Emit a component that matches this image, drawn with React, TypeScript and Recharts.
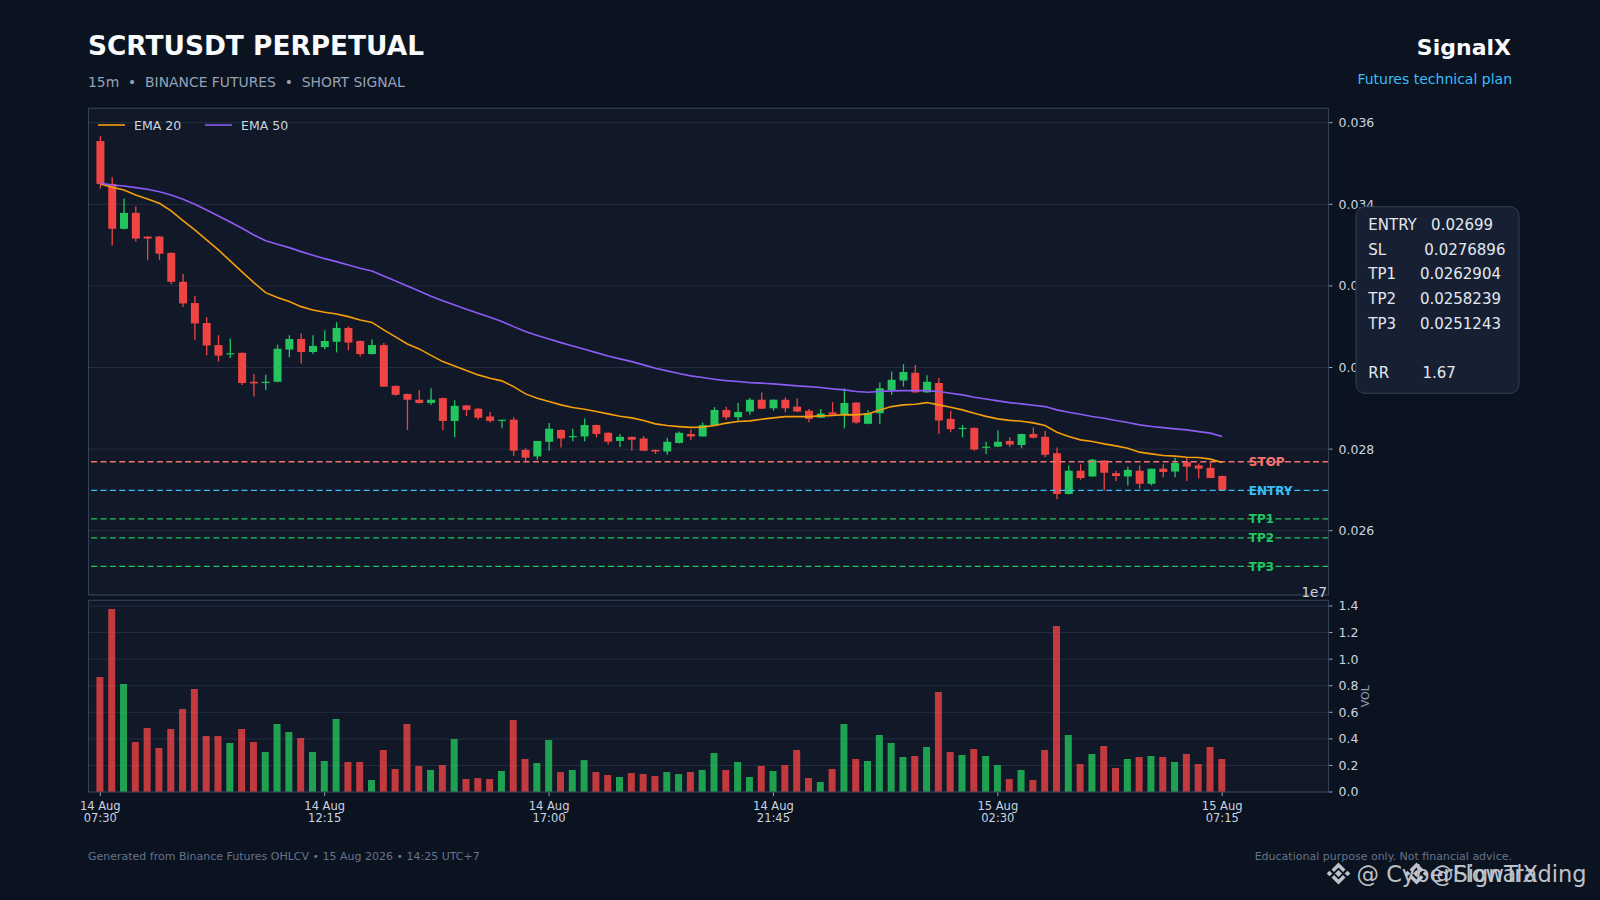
import React from 'react';
import {
  ComposedChart,
  Bar,
  Line,
  XAxis,
  YAxis,
  CartesianGrid,
  ReferenceLine,
  ReferenceDot,
  Cell,
} from 'recharts';

const FONT = '"DejaVu Sans", Verdana, sans-serif';
const GREEN = '#22c55e';
const RED = '#ef4444';

// ---------- data (15m candles, 14 Aug 07:30 -> 15 Aug 07:15) ----------
const opens = [
  0.03555, 0.0345, 0.0334, 0.03379, 0.03321, 0.03321, 0.03281, 0.0321, 0.03158, 0.03109,
  0.03055, 0.03034, 0.03036, 0.02965, 0.02964, 0.02965, 0.03044, 0.0307, 0.03038, 0.0305,
  0.03063, 0.03097, 0.03065, 0.03033, 0.03055, 0.02955, 0.02935, 0.02921, 0.02913, 0.02925,
  0.02869, 0.02907, 0.02899, 0.0288, 0.02871, 0.02872, 0.02798, 0.02782, 0.02818, 0.02847,
  0.0283, 0.02831, 0.02859, 0.0284, 0.0282, 0.0283, 0.02826, 0.02798, 0.02794, 0.02815,
  0.02837, 0.02831, 0.02858, 0.02896, 0.02878, 0.02892, 0.02921, 0.029, 0.02921, 0.02904,
  0.02894, 0.02877, 0.0289, 0.02884, 0.02914, 0.02862, 0.02888, 0.02945, 0.02968, 0.02987,
  0.02939, 0.02962, 0.02874, 0.0285, 0.02852, 0.02805, 0.02806, 0.0282, 0.0281, 0.02837,
  0.0283, 0.0279, 0.0269, 0.02747, 0.02733, 0.02772, 0.02741, 0.02733, 0.02747, 0.02715,
  0.02752, 0.02745, 0.02768, 0.0276, 0.02754, 0.02734,
];
const highs = [
  0.03567, 0.03466, 0.03414, 0.03395, 0.03322, 0.03322, 0.03282, 0.03229, 0.03175, 0.03123,
  0.03079, 0.03071, 0.03037, 0.02984, 0.02982, 0.03056, 0.03079, 0.03084, 0.03079, 0.03091,
  0.03111, 0.03101, 0.03066, 0.03069, 0.0306, 0.02956, 0.02936, 0.02944, 0.02949, 0.02926,
  0.0292, 0.02908, 0.02901, 0.02891, 0.02872, 0.02878, 0.02802, 0.0282, 0.02864, 0.02848,
  0.0285, 0.02875, 0.0286, 0.02841, 0.02837, 0.02831, 0.02832, 0.02799, 0.02828, 0.02843,
  0.02848, 0.02865, 0.02903, 0.02904, 0.02913, 0.02925, 0.02939, 0.02922, 0.02927, 0.02924,
  0.02898, 0.02898, 0.02915, 0.02949, 0.02915, 0.02896, 0.02963, 0.0299, 0.03008, 0.03006,
  0.02981, 0.02974, 0.02894, 0.02859, 0.02853, 0.02818, 0.02846, 0.02829, 0.02838, 0.02853,
  0.02845, 0.02804, 0.0276, 0.02763, 0.02776, 0.02773, 0.02747, 0.02757, 0.0276, 0.02752,
  0.02763, 0.02779, 0.0278, 0.02765, 0.02768, 0.02735,
];
const lows = [
  0.03439, 0.03299, 0.03338, 0.03309, 0.03263, 0.03264, 0.03204, 0.03148, 0.03068, 0.0303,
  0.03015, 0.03023, 0.02957, 0.02929, 0.02945, 0.02964, 0.03025, 0.0301, 0.03033, 0.03045,
  0.03037, 0.03042, 0.03027, 0.03032, 0.02952, 0.02931, 0.02847, 0.02912, 0.02908, 0.02847,
  0.02829, 0.02881, 0.02872, 0.02865, 0.02851, 0.02783, 0.02769, 0.02774, 0.02796, 0.02804,
  0.02819, 0.02819, 0.02829, 0.02811, 0.02805, 0.02796, 0.02795, 0.02788, 0.02786, 0.02814,
  0.02822, 0.0283, 0.02857, 0.02872, 0.02867, 0.02884, 0.02898, 0.02894, 0.0289, 0.02891,
  0.02866, 0.02876, 0.02883, 0.02851, 0.02862, 0.02861, 0.02862, 0.02933, 0.02953, 0.02938,
  0.02938, 0.02837, 0.02841, 0.02829, 0.02796, 0.02788, 0.02805, 0.02805, 0.02802, 0.02826,
  0.0278, 0.02677, 0.02689, 0.02725, 0.02732, 0.02698, 0.02722, 0.02711, 0.02703, 0.02711,
  0.02731, 0.02731, 0.02722, 0.02728, 0.02729, 0.02697,
];
const closes = [
  0.0345, 0.0334, 0.03379, 0.03316, 0.03316, 0.03279, 0.0321, 0.03157, 0.03108, 0.03054,
  0.03029, 0.03035, 0.02962, 0.02961, 0.02965, 0.03046, 0.0307, 0.03038, 0.03053, 0.03065,
  0.03097, 0.03061, 0.03033, 0.03055, 0.02953, 0.02933, 0.02921, 0.02913, 0.02921, 0.02869,
  0.02906, 0.02896, 0.02877, 0.02869, 0.02872, 0.02796, 0.02779, 0.0282, 0.0285, 0.02826,
  0.02832, 0.02859, 0.02837, 0.02818, 0.0283, 0.02823, 0.02796, 0.02794, 0.02818, 0.0284,
  0.02831, 0.02859, 0.02896, 0.02878, 0.02891, 0.02921, 0.02899, 0.02921, 0.029, 0.02892,
  0.02874, 0.02887, 0.02884, 0.02913, 0.02865, 0.02888, 0.02949, 0.0297, 0.02989, 0.02939,
  0.02965, 0.0287, 0.02849, 0.02852, 0.02799, 0.02806, 0.02818, 0.02811, 0.02837, 0.02828,
  0.02786, 0.0269, 0.02747, 0.02729, 0.02774, 0.02742, 0.02734, 0.02749, 0.02715, 0.02752,
  0.02744, 0.02766, 0.02757, 0.02752, 0.02729, 0.02699,
];
const volumes = [
  8660000, 13770000, 8130000, 3760000, 4820000, 3310000, 4740000, 6250000, 7750000, 4210000,
  4210000, 3690000, 4740000, 3760000, 3010000, 5120000, 4520000, 4060000, 3010000, 2330000,
  5490000, 2260000, 2260000, 900000, 3160000, 1730000, 5120000, 1960000, 1660000, 2030000,
  3990000, 980000, 1050000, 980000, 1580000, 5420000, 2480000, 2180000, 3910000, 1500000,
  1660000, 2410000, 1500000, 1280000, 1130000, 1430000, 1350000, 1200000, 1500000, 1350000,
  1500000, 1660000, 2940000, 1660000, 2260000, 1130000, 1960000, 1580000, 2030000, 3160000,
  1050000, 750000, 1730000, 5120000, 2480000, 2330000, 4290000, 3690000, 2630000, 2710000,
  3390000, 7530000, 3010000, 2780000, 3240000, 2710000, 2030000, 980000, 1660000, 900000,
  3160000, 12490000, 4290000, 2110000, 2860000, 3460000, 1810000, 2480000, 2630000, 2710000,
  2630000, 2260000, 2860000, 2110000, 3390000, 2480000,
];
const ema20 = [
  0.034498, 0.034417, 0.034351, 0.034229, 0.034131, 0.034025, 0.033837, 0.033599, 0.033371, 0.033126,
  0.032881, 0.032612, 0.032342, 0.03208, 0.031835, 0.031713, 0.031615, 0.031492, 0.031411, 0.031355,
  0.031313, 0.031247, 0.031166, 0.031105, 0.030921, 0.03075, 0.030578, 0.030456, 0.030296, 0.030144,
  0.030039, 0.029924, 0.029819, 0.029738, 0.029672, 0.029532, 0.029353, 0.029248, 0.029165, 0.029084,
  0.029018, 0.028978, 0.02892, 0.028863, 0.028807, 0.028766, 0.0287, 0.028619, 0.028577, 0.028552,
  0.028533, 0.028538, 0.028577, 0.028636, 0.028675, 0.028692, 0.028733, 0.028766, 0.028797, 0.028797,
  0.028797, 0.028814, 0.028822, 0.028846, 0.028839, 0.028863, 0.028961, 0.029042, 0.029084, 0.029101,
  0.02914, 0.029084, 0.029027, 0.028961, 0.028881, 0.028802, 0.028741, 0.028704, 0.028684, 0.028643,
  0.028577, 0.028415, 0.028307, 0.028226, 0.028185, 0.028128, 0.028079, 0.028023, 0.027925, 0.027883,
  0.027842, 0.027827, 0.027802, 0.027793, 0.027754, 0.02767,
];
const ema50 = [
  0.034515, 0.034474, 0.034449, 0.034408, 0.034368, 0.03431, 0.034229, 0.034123, 0.034001, 0.033861,
  0.033714, 0.033567, 0.033413, 0.033249, 0.033109, 0.033021, 0.032938, 0.03284, 0.032751, 0.032668,
  0.032595, 0.032514, 0.032433, 0.032367, 0.032244, 0.032122, 0.031999, 0.031877, 0.031747, 0.031639,
  0.031534, 0.031428, 0.03133, 0.031232, 0.031125, 0.031002, 0.03088, 0.030782, 0.030701, 0.03061,
  0.030529, 0.030448, 0.030365, 0.030284, 0.030211, 0.030144, 0.030064, 0.029983, 0.029917, 0.029855,
  0.029794, 0.029753, 0.029713, 0.029679, 0.029655, 0.02963, 0.029616, 0.029598, 0.029574, 0.029549,
  0.029532, 0.029508, 0.029476, 0.029451, 0.02941, 0.029395, 0.02941, 0.029427, 0.029434, 0.029434,
  0.029434, 0.02941, 0.02937, 0.029329, 0.029272, 0.029226, 0.029182, 0.02914, 0.029108, 0.029076,
  0.029042, 0.028961, 0.028905, 0.028856, 0.028797, 0.028758, 0.0287, 0.02865, 0.028594, 0.028552,
  0.028527, 0.028496, 0.028471, 0.028429, 0.028391, 0.028307,
];

const xTicks = [0, 19, 38, 57, 76, 95];
const xTickLabels = ['14 Aug\n07:30', '14 Aug\n12:15', '14 Aug\n17:00', '14 Aug\n21:45', '15 Aug\n02:30', '15 Aug\n07:15'];
const xDomain = [-1, 104];
const priceTicks = [0.026, 0.028, 0.03, 0.032, 0.034, 0.036];
const priceDomain = [0.024424, 0.036353];
const volumeTicks = [0, 2000000, 4000000, 6000000, 8000000, 10000000, 12000000, 14000000];
const volumeDomain = [0, 14430000];

const entry = 0.02699;
const stopLoss = 0.0276896;
const tp1 = 0.0262904;
const tp2 = 0.0258239;
const tp3 = 0.0251243;
const riskReward = 1.67;
const levelLabelX = 97;

const levels = [
  { name: 'STOP', value: stopLoss, color: '#f87171' },
  { name: 'ENTRY', value: entry, color: '#38bdf8' },
  { name: 'TP1', value: tp1, color: '#22c55e' },
  { name: 'TP2', value: tp2, color: '#22c55e' },
  { name: 'TP3', value: tp3, color: '#22c55e' },
];

const emaSeries = [
  { key: 'ema20', name: 'EMA 20', color: '#f59e0b' },
  { key: 'ema50', name: 'EMA 50', color: '#8b5cf6' },
];

const data = opens.map((o, i) => ({
  i,
  o,
  h: highs[i],
  l: lows[i],
  c: closes[i],
  v: volumes[i],
  ema20: ema20[i],
  ema50: ema50[i],
}));

// ---------- drawing helpers ----------
const CandleShape = (props: any) => {
  const { x, y, width, height } = props;
  const p = props.payload || props;
  if (x == null || y == null || p == null) return null;
  const { o, h, l, c } = p;
  const color = c >= o ? GREEN : RED;
  const k = h - l > 0 ? height / (h - l) : 0;
  const yO = y + (h - o) * k;
  const yC = y + (h - c) * k;
  const top = Math.min(yO, yC);
  const bh = Math.max(Math.abs(yO - yC), 1.2);
  const cx = x + width / 2;
  return (
    <g>
      <line x1={cx} x2={cx} y1={y} y2={y + height} stroke={color} strokeWidth={1.3} />
      <rect x={x} y={top} width={width} height={bh} fill={color} />
    </g>
  );
};

const XTick = (props: any) => {
  const { x, y, payload } = props;
  const idx = xTicks.indexOf(payload.value);
  const label = idx >= 0 ? xTickLabels[idx] : '';
  const [d, t] = label.split('\n');
  return (
    <text x={x} y={y} textAnchor="middle" fill="#cbd5e1" fontSize={11.5} fontFamily={FONT}>
      <tspan x={x} dy="0.71em">{d}</tspan>
      <tspan x={x} dy="1.02em">{t}</tspan>
    </text>
  );
};

const infoLines = [
  `ENTRY   ${entry}`,
  `SL        ${stopLoss}`,
  `TP1     ${tp1}`,
  `TP2     ${tp2}`,
  `TP3     ${tp3}`,
  '',
  `RR       ${riskReward.toFixed(2)}`,
];

const Diamond = ({ cx, cy, s }: { cx: number; cy: number; s: number }) => (
  <rect x={cx - s / 2} y={cy - s / 2} width={s} height={s} transform={`rotate(45 ${cx} ${cy})`} />
);

const BinanceLogo = ({ cx, cy }: { cx: number; cy: number }) => (
  <g>
    <Diamond cx={cx} cy={cy} s={5} />
    <Diamond cx={cx - 9} cy={cy} s={4} />
    <Diamond cx={cx + 9} cy={cy} s={4} />
    <path d={`M ${cx - 7} ${cy - 4} L ${cx} ${cy - 11} L ${cx + 7} ${cy - 4} L ${cx + 4.5} ${cy - 1.5} L ${cx} ${cy - 6} L ${cx - 4.5} ${cy - 1.5} Z`} />
    <path d={`M ${cx - 7} ${cy + 4} L ${cx} ${cy + 11} L ${cx + 7} ${cy + 4} L ${cx + 4.5} ${cy + 1.5} L ${cx} ${cy + 6} L ${cx - 4.5} ${cy + 1.5} Z`} />
  </g>
);

export default function App() {
  return (
    <div
      style={{
        position: 'absolute',
        left: 0,
        top: 0,
        width: 1600,
        height: 900,
        background: '#0b1220',
        fontFamily: FONT,
        overflow: 'hidden',
      }}
    >
      {/* price panel */}
      <div style={{ position: 'absolute', left: 0, top: 0 }}>
        <ComposedChart
          width={1600}
          height={600}
          data={data}
          margin={{ top: 108.3, right: 211.5, bottom: 0, left: 88.5 }}
        >
          <CartesianGrid fill="#111827" stroke="#334155" strokeOpacity={0.7} strokeWidth={0.8} />
          <XAxis
            type="number"
            dataKey="i"
            domain={xDomain}
            ticks={xTicks}
            interval={0}
            allowDataOverflow
            tick={false}
            tickSize={4}
            height={5}
            axisLine={false}
            tickLine={{ stroke: '#94a3b8' }}
          />
          <YAxis
            orientation="right"
            type="number"
            domain={priceDomain}
            ticks={priceTicks}
            interval={0}
            allowDataOverflow
            width={60}
            tickSize={4}
            tickMargin={6}
            axisLine={false}
            tickLine={{ stroke: '#94a3b8' }}
            tick={{ fill: '#cbd5e1', fontSize: 12.5, fontFamily: FONT }}
            tickFormatter={(v: number) => v.toFixed(3)}
          />
          {levels.map((lv) => (
            <ReferenceLine
              key={lv.name}
              y={lv.value}
              stroke={lv.color}
              strokeDasharray="6 3.4"
              strokeWidth={1.3}
            />
          ))}
          <Bar
            dataKey={(d: any) => [d.l, d.h]}
            barSize={8}
            shape={CandleShape}
            isAnimationActive={false}
          />
          {emaSeries.map((s) => (
            <Line
              key={s.key}
              type="linear"
              dataKey={s.key}
              stroke={s.color}
              strokeWidth={1.6}
              dot={false}
              activeDot={false}
              isAnimationActive={false}
            />
          ))}
          {levels.map((lv) => (
            <ReferenceDot
              key={'lbl' + lv.name}
              x={levelLabelX}
              y={lv.value}
              r={0}
              fill="none"
              stroke="none"
              label={{
                value: lv.name,
                position: 'right',
                offset: 3,
                fill: lv.color,
                fontSize: 12,
                fontWeight: 700,
                fontFamily: FONT,
              }}
            />
          ))}
        </ComposedChart>
      </div>

      {/* volume panel */}
      <div style={{ position: 'absolute', left: 0, top: 590 }}>
        <ComposedChart
          width={1600}
          height={240}
          data={data}
          margin={{ top: 10.3, right: 198.5, bottom: 8, left: 88.5 }}
        >
          <CartesianGrid fill="#111827" vertical={false} stroke="#334155" strokeOpacity={0.7} strokeWidth={0.8} />
          <XAxis
            type="number"
            dataKey="i"
            domain={xDomain}
            ticks={xTicks}
            interval={0}
            allowDataOverflow
            height={30}
            tickSize={4}
            tickMargin={6}
            axisLine={false}
            tickLine={{ stroke: '#94a3b8' }}
            tick={<XTick />}
          />
          <YAxis
            orientation="right"
            type="number"
            domain={volumeDomain}
            ticks={volumeTicks}
            interval={0}
            allowDataOverflow
            width={73}
            tickSize={4}
            tickMargin={6}
            axisLine={false}
            tickLine={{ stroke: '#94a3b8' }}
            tick={{ fill: '#cbd5e1', fontSize: 12.5, fontFamily: FONT }}
            tickFormatter={(v: number) => (v / 1e7).toFixed(1)}
            label={{ value: 'VOL', angle: -90, position: 'center', fill: '#94a3b8', fontSize: 11, fontFamily: FONT }}
          />
          <Bar dataKey="v" barSize={7} fillOpacity={0.8} isAnimationActive={false}>
            {data.map((d) => (
              <Cell key={d.i} fill={d.c >= d.o ? GREEN : RED} />
            ))}
          </Bar>
        </ComposedChart>
      </div>

      {/* overlay: titles, legend, frames, info box, footer */}
      <svg
        width={1600}
        height={900}
        style={{ position: 'absolute', left: 0, top: 0, pointerEvents: 'none', fontFamily: FONT }}
      >
        <text x={88} y={55} fontSize={26.4} fontWeight={700} fill="#f8fafc">
          SCRTUSDT PERPETUAL
        </text>
        <text x={88} y={86.5} fontSize={13.9} fill="#94a3b8" xmlSpace="preserve" style={{ whiteSpace: 'pre' }}>
          {'15m  \u2022  BINANCE FUTURES  \u2022  SHORT SIGNAL'}
        </text>
        <text x={1511} y={55} textAnchor="end" fontSize={22} fontWeight={700} fill="#f8fafc">
          SignalX
        </text>
        <text x={1512} y={83.5} textAnchor="end" fontSize={14} fill="#38bdf8">
          Futures technical plan
        </text>

        {/* panel frames */}
        <rect x={88.5} y={108.3} width={1240} height={486.7} fill="none" stroke="#334155" strokeWidth={1} />
        <rect x={88.5} y={600.3} width={1240} height={191.7} fill="none" stroke="#334155" strokeWidth={1} />

        {/* legend */}
        {emaSeries.map((s, k) => (
          <g key={s.key}>
            <line x1={98 + k * 107} x2={125 + k * 107} y1={125} y2={125} stroke={s.color} strokeWidth={1.6} />
            <text x={134 + k * 107} y={129.5} fontSize={12.5} fill="#cbd5e1">
              {s.name}
            </text>
          </g>
        ))}

        {/* offset text for volume axis */}
        <text x={1327} y={596.5} textAnchor="end" fontSize={13.5} fill="#cbd5e1">
          1e7
        </text>

        {/* info box */}
        <rect x={1356} y={206.7} width={163} height={186.6} rx={9} ry={9} fill="#172033" stroke="#334155" strokeWidth={1} />
        {infoLines.map((ln, k) =>
          ln ? (
            <text
              key={k}
              x={1368.3}
              y={230 + k * 24.7}
              fontSize={15}
              fill="#e2e8f0"
              xmlSpace="preserve"
              style={{ whiteSpace: 'pre' }}
            >
              {ln}
            </text>
          ) : null
        )}

        {/* footer */}
        <text x={88} y={860} fontSize={11} fill="#64748b">
          {'Generated from Binance Futures OHLCV \u2022 15 Aug 2026 \u2022 14:25 UTC+7'}
        </text>
        <text x={1512} y={860} textAnchor="end" fontSize={11} fill="#64748b">
          Educational purpose only. Not financial advice.
        </text>

        {/* watermark */}
        <g fill="#d1d5db" opacity={0.9}>
          <BinanceLogo cx={1338.5} cy={873.5} />
          <BinanceLogo cx={1416.5} cy={873.5} />
          <text x={1356.5} y={881.5} fontSize={22.5} fill="#d1d5db">
            @ CyberFlowTrading
          </text>
          <text x={1431} y={881.5} fontSize={22.5} fill="#d1d5db">
            @SignalX
          </text>
        </g>
      </svg>
    </div>
  );
}
